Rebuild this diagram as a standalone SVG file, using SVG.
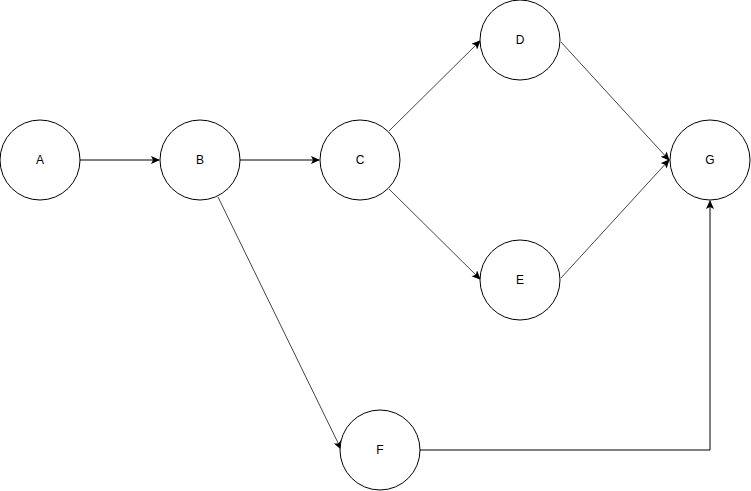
<svg xmlns="http://www.w3.org/2000/svg" width="751" height="491" viewBox="0 0 751 491">
<style>
circle{fill:#fff;stroke:#000;stroke-width:1}
text{font-family:"Liberation Sans",Arial,sans-serif;font-size:12px;text-anchor:middle;dominant-baseline:central;fill:#000}
.e{fill:none;stroke:#000;stroke-width:1;marker-end:url(#ar)}
.g{stroke:#444}
</style>
<defs><marker id="ar" markerWidth="10" markerHeight="10" refX="8" refY="4" orient="auto" markerUnits="userSpaceOnUse"><path d="M0,0 L9,4 L0,8 L2,4 Z" fill="#000"/></marker></defs>
<rect width="751" height="491" fill="#fff"/>
<g id="edges">
<path class="e" d="M80,160 H159"/>
<path class="e" d="M240,160 H319"/>
<path class="e g" d="M389,131 L480,41"/>
<path class="e g" d="M389,189 L480,279"/>
<path class="e g" d="M561,42 L669,160"/>
<path class="e g" d="M561,278 L669,160"/>
<path class="e g" d="M218,197 L341,449"/>
<path class="e" d="M420,450 H710 V201"/>
</g>
<g id="A"><circle cx="40" cy="160" r="40"/><text x="40" y="160">A</text></g>
<g id="B"><circle cx="200" cy="160" r="40"/><text x="200" y="160">B</text></g>
<g id="C"><circle cx="360" cy="160" r="40"/><text x="360" y="160">C</text></g>
<g id="D"><circle cx="520" cy="40" r="40"/><text x="520" y="40">D</text></g>
<g id="E"><circle cx="520" cy="280" r="40"/><text x="520" y="280">E</text></g>
<g id="G"><circle cx="710" cy="160" r="40"/><text x="710" y="160">G</text></g>
<g id="F"><circle cx="380" cy="450" r="40"/><text x="380" y="450">F</text></g>
</svg>
